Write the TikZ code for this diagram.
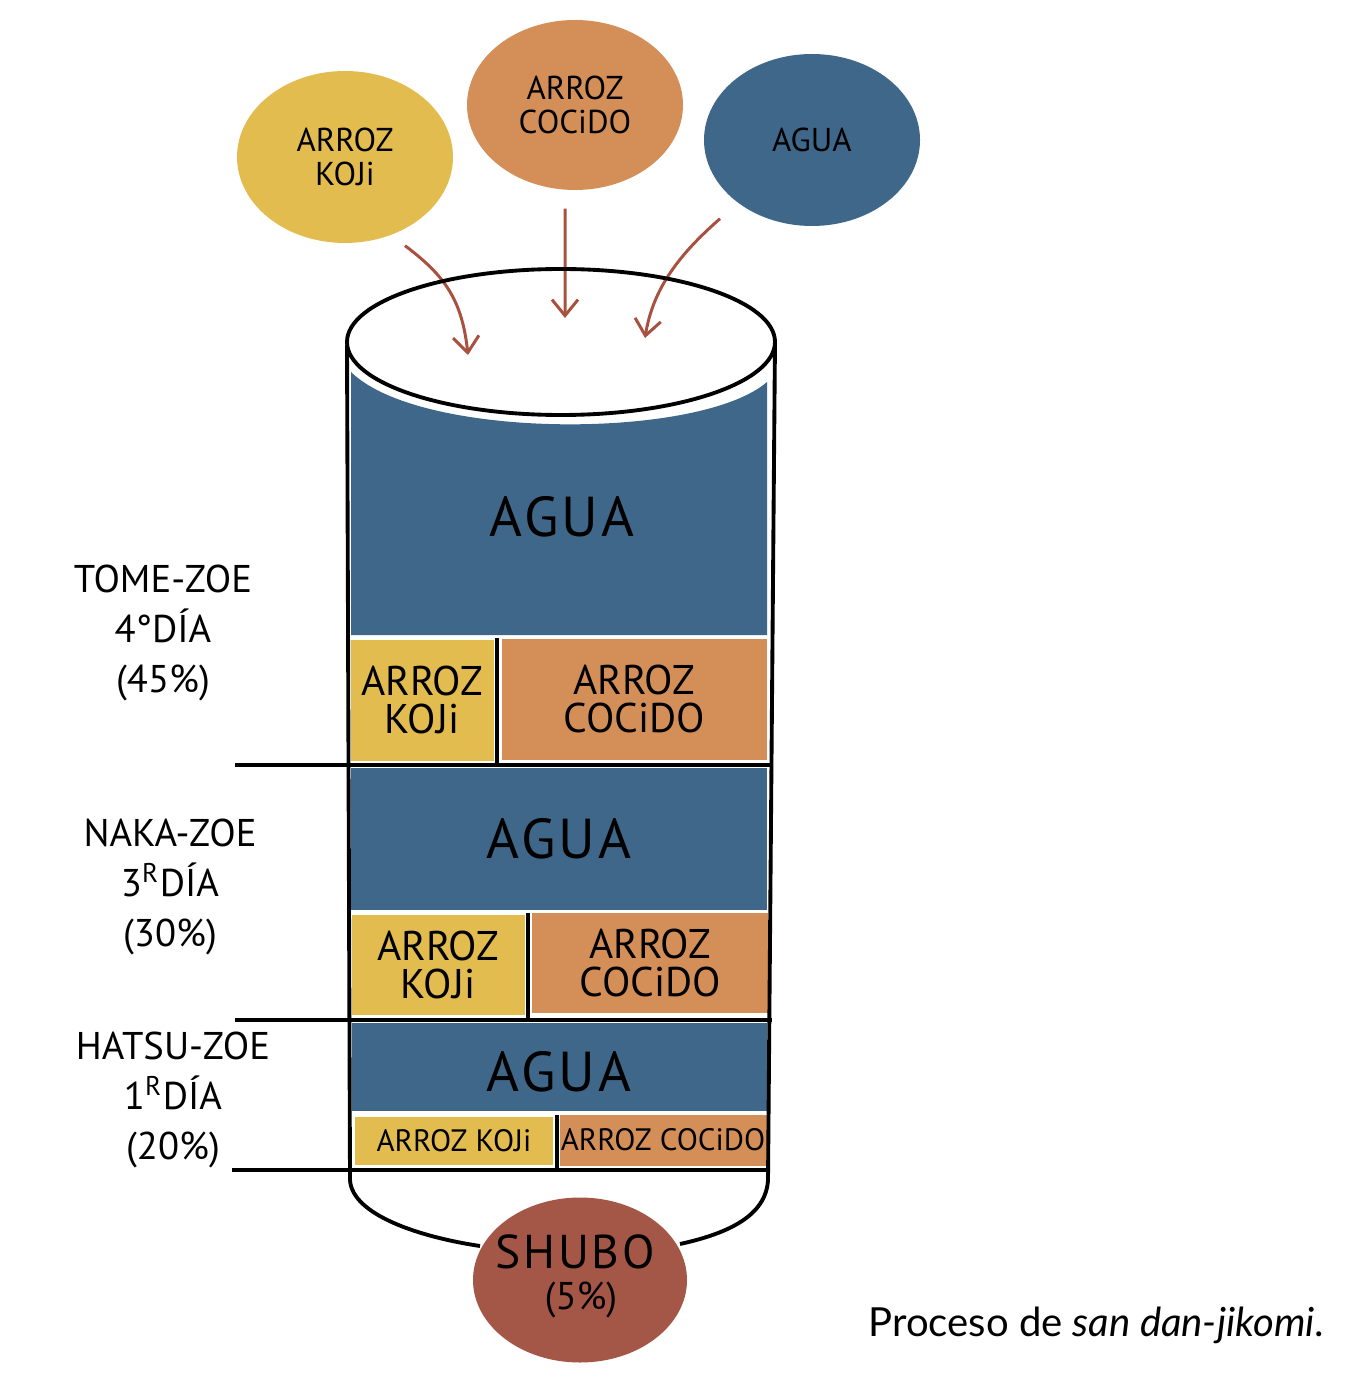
\documentclass[tikz,border=0pt]{standalone}
\usepackage{fontspec}
\setmainfont{Lato}
\newfontfamily\hand{PT Sans}
\newfontfamily\handwide[LetterSpace=6]{PT Sans}
\usetikzlibrary{arrows.meta, shapes.geometric}

\definecolor{agua}{HTML}{3F6789}
\definecolor{koji}{HTML}{E3BC50}
\definecolor{cocido}{HTML}{D48F58}
\definecolor{shubo}{HTML}{A55747}
\definecolor{feedred}{HTML}{A8513F}

\begin{document}
\begin{tikzpicture}[
    x=0.1mm, y=-0.1mm,
    blob/.style={ellipse, inner sep=0pt, minimum width=21.6mm, minimum height=17.2mm,
        align=center, font=\hand\fontsize{9.4}{9.6}\selectfont},
    block/.style={rectangle, inner sep=0pt, align=center,
        font=\hand\fontsize{11.8}{11}\selectfont},
    thinblock/.style={block, font=\hand\fontsize{8.8}{10}\selectfont},
    bigtext/.style={font=\handwide\fontsize{16}{18}\selectfont},
    stage/.style={align=center, font=\hand\fontsize{11}{14.2}\selectfont},
    feed/.style={draw=feedred, line width=0.85pt, -{Straight Barb[length=1.6mm, width=2.6mm]}},
    outline/.style={draw=black, line width=1.1pt},
    divider/.style={draw=black, line width=0.9pt},
]
\useasboundingbox (0,0) rectangle (1352,1388);

% Ingredients on top
\node[blob, fill=koji] (topkoji) at (345,157) {ARROZ\\KOJi};
\node[blob, fill=cocido, minimum height=17mm] (topcocido) at (575,105) {ARROZ\\COCiDO};
\node[blob, fill=agua] (topagua) at (812,140) {AGUA};

% Where they fall into the tank
\coordinate (in1) at (468,355);
\coordinate (in2) at (565,318);
\coordinate (in3) at (645,338);

\draw[feed] ([shift={(6mm,-0.2mm)}]topkoji.south) .. controls +(40,30) and +(-6,-55) .. (in1);
\draw[feed] ([shift={(-1mm,-1.8mm)}]topcocido.south) -- (in2);
\draw[feed] ([shift={(-9.2mm,0.8mm)}]topagua.south) .. controls +(-40,35) and +(8,-50) .. (in3);

% Tome-zoe (4th day)
\fill[agua] (351,372) .. controls (420,440) and (700,440) .. (767,382) -- (767,635) -- (351,635) -- cycle;
\node[bigtext] (tomeagua) at (562,517) {AGUA};
\node[block, fill=koji, minimum width=14.3mm, minimum height=12.1mm] (tomekoji) at (422,700) {ARROZ\\KOJi};
\node[block, fill=cocido, minimum width=26.5mm, minimum height=12.1mm] (tomecocido) at (634,699) {ARROZ\\COCiDO};

% Naka-zoe (3rd day)
\node[block, fill=agua, minimum width=41.6mm, minimum height=14.2mm] (nakaagua) at (559,839) {};
\node[bigtext] at (nakaagua) {AGUA};
\node[block, fill=koji, minimum width=17.3mm, minimum height=10mm] (nakakoji) at (438,965) {ARROZ\\KOJi};
\node[block, fill=cocido, minimum width=23.6mm, minimum height=10mm] (nakacocido) at (650,963) {ARROZ\\COCiDO};

% Hatsu-zoe (1st day)
\node[block, fill=agua, minimum width=41.5mm, minimum height=8.8mm] (hatsuagua) at (559,1067) {};
\node[bigtext] at ([yshift=-0.5mm]hatsuagua) {AGUA};
\node[thinblock, fill=koji, minimum width=19.8mm, minimum height=4.8mm] (hatsukoji) at (454,1141) {ARROZ KOJi};
\node[thinblock, fill=cocido, minimum width=20.7mm, minimum height=5.1mm] (hatsucocido) at (663,1140) {ARROZ COCiDO};

% Dividers between the additions
\draw[divider] (235,765) -- (772,765);
\draw[divider] (235,1020) -- (772,1020);
\draw[divider] (232,1170) -- (768,1170);
\draw[divider] (497,638) -- (497,763);
\draw[divider] (528,913) -- (528,1018);
\draw[divider] (557,1115) -- (557,1168);

% Tank
\draw[outline] (561,342) ellipse [x radius=214, y radius=73];
\draw[outline] (347,345) -- (350,1180) .. controls (352,1215) and (420,1237) .. (480,1246);
\draw[outline] (775,340) -- (768,1180) .. controls (766,1215) and (730,1233) .. (680,1244);

% Starter at the bottom
\node[ellipse, fill=shubo, inner sep=0pt, minimum width=21.4mm, minimum height=16.5mm] (shubo) at (580,1280) {};
\node[font=\handwide\fontsize{13.5}{15}\selectfont] at (575,1252) {SHUBO};
\node[font=\hand\fontsize{11}{12}\selectfont] at (581,1300) {(5\%)};

% Stage labels
\node[stage] (tome) at (163,633) {TOME-ZOE\\4°DÍA\\(45\%)};
\node[stage] (naka) at (170,887) {NAKA-ZOE\\3\textsuperscript{R}DÍA\\(30\%)};
\node[stage] (hatsu) at (173,1100) {HATSU-ZOE\\1\textsuperscript{R}DÍA\\(20\%)};

% Caption
\node[anchor=base east, inner sep=0pt, font=\fontsize{11.4}{13}\selectfont] (caption) at (1325,1336) {Proceso de \textit{san dan-jikomi}.};

\end{tikzpicture}
\end{document}
